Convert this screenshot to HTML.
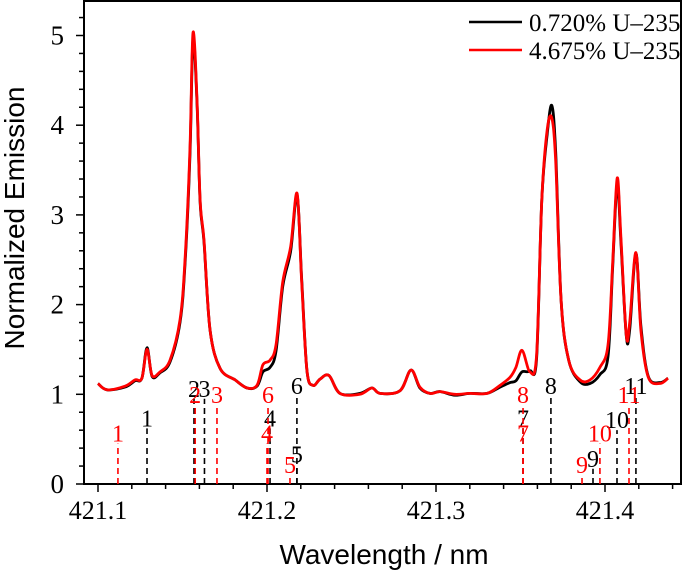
<!DOCTYPE html>
<html><head><meta charset="utf-8"><style>
body{margin:0;background:#fff}
svg{display:block}
</style></head><body>
<svg id="chart" width="685" height="580" xmlns="http://www.w3.org/2000/svg">
<g id="plot"></g>
</svg>
<script>
const wl=[421.1000,421.1053,421.1160,421.1219,421.1260,421.1290,421.1320,421.1367,421.1426,421.1485,421.1515,421.1544,421.1562,421.1586,421.1604,421.1627,421.1663,421.1722,421.1811,421.1882,421.1941,421.1976,421.2018,421.2053,421.2093,421.2140,421.2178,421.2205,421.2236,421.2272,421.2314,421.2367,421.2432,421.2550,421.2621,421.2669,421.2787,421.2852,421.2905,421.2964,421.3024,421.3112,421.3201,421.3302,421.3379,421.3438,421.3473,421.3509,421.3556,421.3595,421.3626,421.3658,421.3685,421.3708,421.3740,421.3785,421.3852,421.3911,421.3970,421.4018,421.4045,421.4072,421.4094,421.4126,421.4146,421.4183,421.4213,421.4256,421.4325,421.4373];
const blackVals=[1.12,1.05,1.08,1.15,1.18,1.52,1.20,1.24,1.36,1.80,2.45,3.65,4.95,4.25,3.15,2.70,1.72,1.29,1.16,1.07,1.09,1.25,1.30,1.48,2.20,2.60,3.22,2.30,1.27,1.10,1.17,1.21,1.01,1.01,1.07,1.01,1.04,1.27,1.07,1.01,1.03,0.99,1.01,1.01,1.08,1.13,1.15,1.25,1.26,1.40,3.17,3.90,4.22,3.70,2.05,1.38,1.14,1.12,1.22,1.42,2.40,3.35,2.70,1.65,1.72,2.57,1.75,1.20,1.13,1.18];
const redVals=[1.12,1.05,1.09,1.16,1.18,1.50,1.21,1.25,1.38,1.83,2.50,3.72,5.03,4.28,3.17,2.72,1.72,1.29,1.16,1.07,1.10,1.33,1.38,1.55,2.25,2.65,3.24,2.27,1.27,1.10,1.17,1.21,1.01,1.00,1.07,1.01,1.04,1.27,1.08,1.01,1.03,1.00,1.01,1.01,1.10,1.19,1.30,1.49,1.25,1.44,3.17,3.95,4.08,3.60,2.05,1.38,1.16,1.16,1.30,1.55,2.45,3.41,2.75,1.66,1.80,2.58,1.70,1.19,1.12,1.18];
const blackLineWl=[421.1290,421.1568,421.1630,421.2018,421.2177,421.2177,421.3515,421.3680,421.3929,421.4071,421.4183];
const blackLineH=[0.62,0.95,0.95,0.62,0.22,0.98,0.62,0.98,0.17,0.60,0.98];
const redLineWl=[421.1118,421.1575,421.1704,421.2000,421.2136,421.2006,421.3515,421.3515,421.3864,421.3970,421.4142];
const redLineH=[0.45,0.88,0.88,0.45,0.10,0.88,0.45,0.88,0.10,0.45,0.88];
const xTicks=[421.1,421.2,421.3,421.4];
const yTicks=[0,1,2,3,4,5];

const L=84,R=681,T=1,B=484;
const X=w=>98+(w-421.1)*1690;
const Y=v=>B-v*89.7;
const NS='http://www.w3.org/2000/svg';
const svg=document.getElementById('chart');
function mk(tag,attrs,parent){const e=document.createElementNS(NS,tag);for(const k in attrs)e.setAttribute(k,attrs[k]);(parent||svg).appendChild(e);return e;}

const frame=mk('rect',{x:L,y:T,width:R-L,height:B-T,fill:'none',stroke:'#000','stroke-width':2});



for(let w=421.08;w<=421.4475;w+=0.02){const x=X(w);if(x<L||x>R)continue;
 const major=xTicks.some(t=>Math.abs(t-w)<1e-6);
 const t=mk('line',{x1:x,x2:x,y1:B,y2:B+(major?8:5),stroke:'#000','stroke-width':1.5});
 
 }
xTicks.forEach(v=>{const t=mk('text',{x:X(v),y:519,'text-anchor':'middle','font-family':'Liberation Serif, serif','font-size':26});t.textContent=v.toFixed(1);
 
 });
for(let v=0;v<=5.41;v+=0.2){const y=Y(v);if(y<T)continue;
 const major=Math.abs(v-Math.round(v))<1e-6;
 const t=mk('line',{x1:L,x2:L-(major?8:5),y1:y,y2:y,stroke:'#000','stroke-width':1.5});
 
 }
yTicks.forEach(v=>{const t=mk('text',{x:64,y:Y(v)+9,'text-anchor':'end','font-family':'Liberation Serif, serif','font-size':27});t.textContent=v;
 
 });

const xt=mk('text',{x:384,y:564,'text-anchor':'middle','font-family':'Liberation Sans, sans-serif','font-size':28});xt.textContent='Wavelength / nm';


const yt=mk('text',{x:0,y:0,'text-anchor':'middle','font-family':'Liberation Sans, sans-serif','font-size':28,transform:'translate(24,218) rotate(-90)'});yt.textContent='Normalized Emission';



function refLines(ws,hs,color,nm){ws.forEach((w,i)=>{
 const l=mk('line',{x1:X(w),x2:X(w),y1:B,y2:Y(hs[i]),stroke:color,'stroke-width':1.6,'stroke-dasharray':'6,4'});
 
 
 const t=mk('text',{x:X(w),y:Y(hs[i])-2,'text-anchor':'middle',fill:color,'font-family':'Liberation Serif, serif','font-size':24});t.textContent=i+1;
 
 });}
refLines(blackLineWl,blackLineH,'#000','natural');
refLines(redLineWl,redLineH,'#f00','enriched');

function series(vals,color,nm){
 const P=vals.map((v,i)=>[X(wl[i]),Y(v)]);
 let d='M'+P[0][0].toFixed(1)+','+P[0][1].toFixed(1);
 for(let i=0;i<P.length-1;i++){const p0=P[Math.max(0,i-1)],p1=P[i],p2=P[i+1],p3=P[Math.min(P.length-1,i+2)];
  const c1=[p1[0]+(p2[0]-p0[0])/6,p1[1]+(p2[1]-p0[1])/6],c2=[p2[0]-(p3[0]-p1[0])/6,p2[1]-(p3[1]-p1[1])/6];
  d+=' C'+c1.map(n=>n.toFixed(1)).join(',')+' '+c2.map(n=>n.toFixed(1)).join(',')+' '+p2[0].toFixed(1)+','+p2[1].toFixed(1);}
 const p=mk('path',{d:d,fill:'none',stroke:color,'stroke-width':2.8,'stroke-linejoin':'round'});
 
 }
series(blackVals,'#000','series-0720');
series(redVals,'#f00','series-4675');

const lg=mk('g',{});


[['#000','0.720% U\u2013235',22],['#f00','4.675% U\u2013235',50]].forEach(([c,s,y],i)=>{
 const l=mk('line',{x1:469,x2:522,y1:y,y2:y,stroke:c,'stroke-width':2.5},lg);
 
 
 const t=mk('text',{x:529,y:y+9,'font-family':'Liberation Serif, serif','font-size':25},lg);t.textContent=s;
 
 });
</script>
</body></html>
